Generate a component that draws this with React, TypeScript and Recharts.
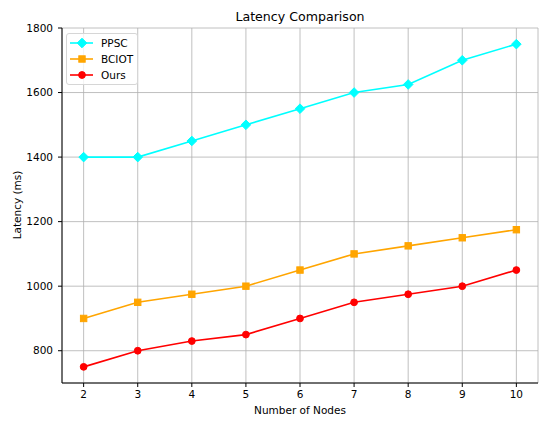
import { LineChart, Line, XAxis, YAxis, CartesianGrid } from "recharts"

const nodes = [2, 3, 4, 5, 6, 7, 8, 9, 10]
const ppsc = [1400, 1400, 1450, 1500, 1550, 1600, 1625, 1700, 1750]
const bciot = [900, 950, 975, 1000, 1050, 1100, 1125, 1150, 1175]
const ours = [750, 800, 830, 850, 900, 950, 975, 1000, 1050]
const yTicks = [800, 1000, 1200, 1400, 1600, 1800]

const data = nodes.map((n, i) => ({ nodes: n, ppsc: ppsc[i], bciot: bciot[i], ours: ours[i] }))

const series = [
  { key: "ppsc", name: "PPSC", color: "#00ffff", shape: "diamond" },
  { key: "bciot", name: "BCIOT", color: "#ffa500", shape: "square" },
  { key: "ours", name: "Ours", color: "#ff0000", shape: "circle" },
]

const font = "'DejaVu Sans', sans-serif"

function Marker({ cx, cy, shape, color }: any) {
  if (cx == null || cy == null) return null
  if (shape === "diamond") {
    const r = 4.8
    return <path d={`M${cx},${cy - r}L${cx + r},${cy}L${cx},${cy + r}L${cx - r},${cy}Z`} fill={color} stroke={color} />
  }
  if (shape === "square") {
    return <rect x={cx - 3.2} y={cy - 3.2} width={6.4} height={6.4} fill={color} stroke={color} />
  }
  return <circle cx={cx} cy={cy} r={3.4} fill={color} stroke={color} />
}

function LegendBox() {
  return (
    <div
      style={{
        position: "absolute",
        left: 66,
        top: 33,
        width: 70,
        height: 50,
        border: "1px solid #d6d6d6",
        borderRadius: 3,
        background: "rgba(255,255,255,0.8)",
        fontFamily: font,
        fontSize: 10.5,
      }}
    >
      {series.map((s, i) => (
        <div key={s.key} style={{ position: "absolute", left: 0, top: 1 + i * 16, height: 16, display: "flex", alignItems: "center" }}>
          <svg width={34} height={16}>
            <line x1={3} y1={8} x2={26} y2={8} stroke={s.color} strokeWidth={1.6} />
            <Marker cx={15} cy={8} shape={s.shape} color={s.color} />
          </svg>
          <span style={{ whiteSpace: "nowrap" }}>{s.name}</span>
        </div>
      ))}
    </div>
  )
}

export default function App() {
  return (
    <div style={{ position: "absolute", left: 0, top: 0, width: 550, height: 422, background: "#fff" }}>
      <div
        style={{
          position: "absolute",
          left: 62,
          width: 476,
          top: 9,
          lineHeight: "15px",
          textAlign: "center",
          fontFamily: font,
          fontSize: 12.6,
        }}
      >
        Latency Comparison
      </div>
      <div
        style={{
          position: "absolute",
          left: 17,
          top: 205,
          lineHeight: "12px",
          transform: "translate(-50%, -50%) rotate(-90deg)",
          whiteSpace: "nowrap",
          fontFamily: font,
          fontSize: 10.5,
        }}
      >
        Latency (ms)
      </div>
      <div
        style={{
          position: "absolute",
          left: 62,
          width: 476,
          top: 404,
          lineHeight: "12px",
          textAlign: "center",
          fontFamily: font,
          fontSize: 10.5,
        }}
      >
        Number of Nodes
      </div>
      <LineChart width={550} height={422} data={data} margin={{ top: 28, right: 12, left: 0, bottom: 0 }}>
        <CartesianGrid stroke="#b0b0b0" strokeWidth={0.8} />
        <XAxis
          dataKey="nodes"
          type="number"
          domain={[1.6, 10.4]}
          ticks={nodes}
          height={39}
          stroke="#000"
          tickSize={4}
          tick={{ fill: "#000", fontSize: 10.5, fontFamily: font }}
          tickMargin={4}
        />
        <XAxis xAxisId="top" orientation="top" dataKey="nodes" type="number" domain={[1.6, 10.4]} height={0} tick={false} stroke="#000" />
        <YAxis
          domain={[700, 1800]}
          ticks={yTicks}
          width={62}
          stroke="#000"
          tickSize={4}
          tick={{ fill: "#000", fontSize: 10.5, fontFamily: font }}
          tickMargin={5}
        />
        <YAxis yAxisId="right" orientation="right" domain={[700, 1800]} width={0} tick={false} stroke="#000" />
        {series.map((s) => (
          <Line
            key={s.key}
            dataKey={s.key}
            name={s.name}
            stroke={s.color}
            strokeWidth={1.6}
            isAnimationActive={false}
            dot={(p: any) => <Marker key={p.index} cx={p.cx} cy={p.cy} shape={s.shape} color={s.color} />}
            activeDot={false}
          />
        ))}
      </LineChart>
      <LegendBox />
    </div>
  )
}
